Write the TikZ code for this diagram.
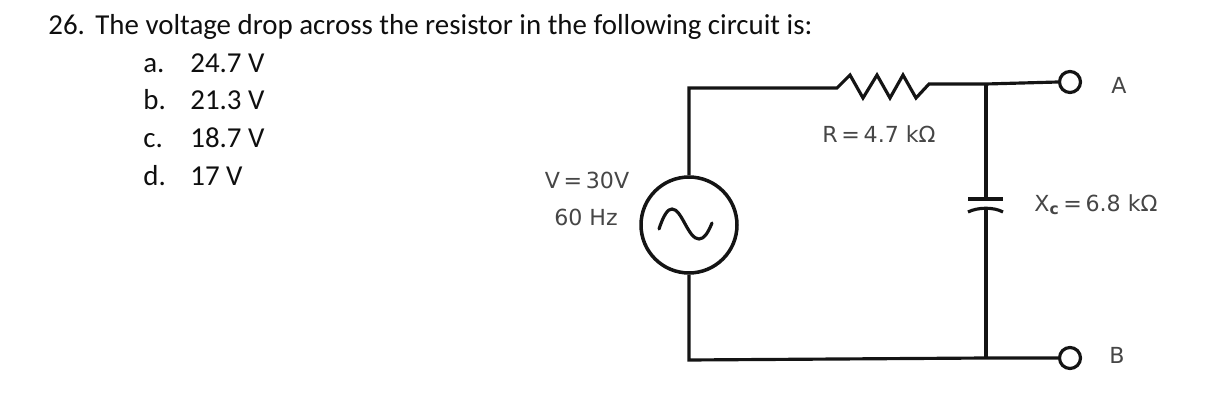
\documentclass[tikz,border=0pt]{standalone}
\usepackage{fontspec}
\setmainfont{Carlito}
\newfontfamily\labelfont{DejaVu Sans}
\usetikzlibrary{arrows}
\definecolor{wireink}{RGB}{20, 20, 20}
\definecolor{labelink}{RGB}{70, 70, 70}
\definecolor{textink}{RGB}{15, 15, 15}
\tikzset{
    wire/.style={draw=wireink, line width=1.8pt},
    terminal/.style={circle, draw=wireink, line width=1.8pt, fill=white, minimum size=0.42cm, inner sep=0pt},
    acsource/.style={circle, draw=wireink, line width=2pt, fill=white, minimum size=1.92cm, inner sep=0pt},
    qtext/.style={anchor=base west, inner sep=0pt, color=textink, font=\fontsize{16.45}{19}\selectfont},
    ckttext/.style={anchor=center, inner sep=0pt, color=labelink, font=\labelfont\fontsize{12.6}{14}\selectfont}
}

\begin{document}
\begin{tikzpicture}[x=0.02cm, y=-0.02cm]
            \useasboundingbox (0, 0) rectangle (1218, 412);
            % question and answers
            \node[qtext] (qnum) at ( 48, 35) {26.};
            \node[qtext] (qstem) at ( 95, 35) {The voltage drop across the resistor in the following circuit is:};
            \node[qtext] (optA) at (143, 73) {a.};
            \node[qtext] (valA) at (190, 73) {24.7 V};
            \node[qtext] (optB) at (143, 110) {b.};
            \node[qtext] (valB) at (190, 110) {21.3 V};
            \node[qtext] (optC) at (143, 148) {c.};
            \node[qtext] (valC) at (190, 148) {18.7 V};
            \node[qtext] (optD) at (143, 186) {d.};
            \node[qtext] (valD) at (190, 186) {17 V};
            % circuit
            \coordinate (topL) at (689, 88);
            \coordinate (botL) at (689, 360);
            \coordinate (resL) at (837, 88);
            \coordinate (resR) at (929, 84);
            \coordinate (topJ) at (986, 84);
            \coordinate (botJ) at (986, 358);
            \coordinate (capT) at (986, 199);
            \coordinate (capB) at (986, 208);
            \node[acsource] (vsrc) at (689, 225) {};
            \node[terminal] (termA) at (1070, 82) {};
            \node[terminal] (termB) at (1070, 358) {};
            \draw[wire] (vsrc.north) -- (topL) -- (resL)
                -- (850, 75) -- (863, 98) -- (877, 75) -- (890, 98) -- (903, 75) -- (916, 98)
                -- (resR) -- (topJ) -- (termA.west);
            \draw[wire] (vsrc.south) -- (botL) -- (botJ) -- (termB.west);
            \draw[wire] (topJ) -- (capT);
            \draw[wire] (capB) -- (botJ);
            \draw[wire] (968, 199) -- (1003, 199);
            \draw[wire] (968, 212) .. controls (978, 207) and (994, 207) .. (1003, 212);
            \draw[wire, line cap=round] (659, 229) .. controls (664, 214) and (668, 209) .. (672, 209)
                .. controls (682, 209) and (688, 239) .. (699, 239)
                .. controls (704, 239) and (708, 233) .. (712, 223);
            % circuit labels
            \node[ckttext] (lblR) at (879, 134) {R\,=\,4.7 kΩ};
            \node[ckttext] (lblV) at (587, 180) {V\,=\,30V};
            \node[ckttext] (lblF) at (586, 217) {60 Hz};
            \node[ckttext] (lblX) at (1096, 205) {X\textsubscript{\textbf{c}}\,=\,6.8 kΩ};
            \node[ckttext] (lblA) at (1119, 85) {A};
            \node[ckttext] (lblB) at (1117, 355) {B};
        \end{tikzpicture}
\end{document}
